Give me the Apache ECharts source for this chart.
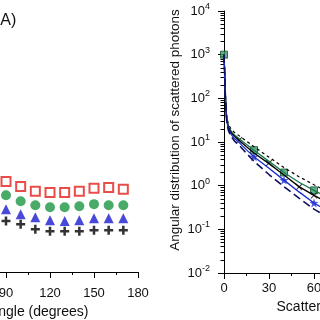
<!DOCTYPE html>
<html><head><meta charset="utf-8">
<script src="https://cdn.jsdelivr.net/npm/echarts@6/dist/echarts.min.js"></script>
<style>html,body{margin:0;padding:0;background:#fff}#c{width:320px;height:320px}</style>
</head><body><div id="c"></div>
<script>
// ---- Panel A (left): scattering angle vs value (y axis off-screen) ----
const angleA = [90, 100, 110, 120, 130, 140, 150, 160, 170];
const redSquares = [34.7, 32.8, 30.9, 30.5, 30.5, 30.9, 32.1, 32.4, 31.7];
const greenCircles = [29.4, 27.1, 25.6, 24.8, 24.8, 25.2, 26.0, 25.6, 25.6];
const blueTriangles = [24.0, 22.1, 21.0, 19.8, 19.5, 19.8, 20.6, 20.6, 20.6];
const blackPlus = [19.5, 18.3, 16.4, 15.6, 15.6, 15.6, 16.0, 16.0, 16.0];

// ---- Panel B (right): angular distribution of scattered photons (log) ----
const angleB = [0, 0.5, 1, 1.5, 2, 3, 5, 7, 10, 15, 20, 30, 40, 50, 60, 70];
const blackSolid = [1000, 350, 100, 45, 30, 21, 16, 13.5, 11, 7.8, 5.6, 3.2, 1.75, 0.95, 0.6, 0.4];
const greenSolid = [1000, 360, 105, 48, 32, 22.5, 17, 14.5, 12, 8.8, 6.5, 3.6, 2.0, 1.2, 0.78, 0.52];
const blackDashed = [1000, 380, 115, 52, 35, 25, 19, 16.5, 14, 10.5, 7.8, 4.5, 2.6, 1.6, 1.05, 0.7];
const blueSolid = [1000, 340, 95, 42, 28, 19.5, 14.5, 12, 9.8, 6.6, 4.6, 2.5, 1.34, 0.72, 0.4, 0.25];
const blueDashed = [1000, 330, 90, 40, 26, 18, 13, 10.5, 8.5, 5.5, 3.6, 1.8, 0.95, 0.52, 0.29, 0.18];
const greenMarkAngle = [0, 20, 40, 60];
const greenMarkVal = [1000, 6.5, 2.0, 0.78];
const crossAngle = [10, 30, 50, 60];
const crossVal = [11, 3.3, 0.93, 0.6];
const starAngle = [20, 40, 60];
const starVal = [4.6, 1.34, 0.4];

const xName = 'Scattering angle (degrees)';
const yNameB = 'Angular distribution of scattered photons';
const panelLabel = '(A)';

const zip = (a, b) => a.map((v, i) => [v, b[i]]);
const FONT = '"Liberation Sans", Arial, sans-serif';
const PLUS = 'path://M3.6,0H6.4V3.6H10V6.4H6.4V10H3.6V6.4H0V3.6H3.6Z';
const XMARK = 'path://M1,0L5,4L9,0L10,1L6,5L10,9L9,10L5,6L1,10L0,9L4,5L0,1Z';
const STAR = 'path://M5,0L6.2,3.5L10,3.6L7,5.9L8.1,9.6L5,7.4L1.9,9.6L3,5.9L0,3.6L3.8,3.5Z';

const axisCommon = {
  axisLine: {lineStyle: {color: '#000', width: 1}},
  axisTick: {length: 6, lineStyle: {color: '#000'}},
  minorTick: {show: true, splitNumber: 2, length: 3, lineStyle: {color: '#000'}},
  splitLine: {show: false},
  axisLabel: {color: '#111', fontSize: 13, fontFamily: FONT}
};

const chart = echarts.init(document.getElementById('c'));
chart.setOption({
  animation: false,
  backgroundColor: '#fff',
  grid: [
    {left: -126, right: 182, top: 11, bottom: 48, containLabel: false, outerBoundsMode: 'none'},
    {left: 224, right: -174, top: 11, bottom: 47, containLabel: false, outerBoundsMode: 'none'}
  ],
  xAxis: [
    Object.assign({}, axisCommon, {
      gridIndex: 0, type: 'value', min: 0, max: 180, interval: 30,
      name: xName, nameLocation: 'middle', nameGap: 33,
      nameTextStyle: {fontSize: 14, color: '#111', fontFamily: FONT},
      axisLabel: Object.assign({}, axisCommon.axisLabel, {margin: 15})
    }),
    Object.assign({}, axisCommon, {
      gridIndex: 1, type: 'value', min: 0, max: 180, interval: 30,
      name: xName, nameLocation: 'middle', nameGap: 25,
      nameTextStyle: {fontSize: 14, color: '#111', fontFamily: FONT},
      axisLabel: Object.assign({}, axisCommon.axisLabel, {margin: 9})
    })
  ],
  yAxis: [
    {gridIndex: 0, type: 'value', min: 0, max: 100, show: false},
    Object.assign({}, axisCommon, {
      gridIndex: 1, type: 'log', logBase: 10, min: 0.01, max: 10000,
      minorTick: {show: true, splitNumber: 9, length: 3.5, lineStyle: {color: '#000'}},
      axisLabel: {
        margin: 14, fontFamily: FONT,
        formatter: v => '{b|10}{s|' + Math.round(Math.log10(v)) + '}',
        rich: {
          b: {fontSize: 13, color: '#111', fontFamily: FONT},
          s: {fontSize: 9, color: '#111', fontFamily: FONT, padding: [0, 0, 9, 0]}
        }
      }
    })
  ],
  graphic: [
    {type: 'text', left: -5, top: 13, style: {text: panelLabel, font: '16px ' + FONT, fill: '#111'}},
    {type: 'text', x: 175, y: 130, rotation: Math.PI / 2,
     style: {text: yNameB, font: '13.5px ' + FONT, fill: '#111', align: 'center', verticalAlign: 'middle'}}
  ],
  series: [
    {type: 'scatter', xAxisIndex: 0, yAxisIndex: 0, data: zip(angleA, redSquares),
     symbol: 'rect', symbolSize: 9, itemStyle: {color: '#fff', borderColor: '#e3211c', borderWidth: 2}},
    {type: 'scatter', xAxisIndex: 0, yAxisIndex: 0, data: zip(angleA, greenCircles),
     symbol: 'circle', symbolSize: 10, itemStyle: {color: '#1a9641'}},
    {type: 'scatter', xAxisIndex: 0, yAxisIndex: 0, data: zip(angleA, blueTriangles),
     symbol: 'triangle', symbolSize: 10, itemStyle: {color: '#1b1bd0'}},
    {type: 'scatter', xAxisIndex: 0, yAxisIndex: 0, data: zip(angleA, blackPlus),
     symbol: PLUS, symbolSize: 9, itemStyle: {color: '#000'}},

    {type: 'line', xAxisIndex: 1, yAxisIndex: 1, data: zip(angleB, blackDashed), showSymbol: false,
     lineStyle: {color: '#000', width: 1.2, type: [3, 3]}},
    {type: 'line', xAxisIndex: 1, yAxisIndex: 1, data: zip(angleB, greenSolid), showSymbol: false,
     lineStyle: {color: '#1d7a4c', width: 1.3}},
    {type: 'line', xAxisIndex: 1, yAxisIndex: 1, data: zip(angleB, blackSolid), showSymbol: false,
     lineStyle: {color: '#000', width: 1.3}},
    {type: 'line', xAxisIndex: 1, yAxisIndex: 1, data: zip(angleB, blueSolid), showSymbol: false,
     lineStyle: {color: '#1b2bd4', width: 1.3}},
    {type: 'line', xAxisIndex: 1, yAxisIndex: 1, data: zip(angleB, blueDashed), showSymbol: false,
     lineStyle: {color: '#101060', width: 1.6, type: [8, 4]}},
    {type: 'scatter', xAxisIndex: 1, yAxisIndex: 1, data: zip(greenMarkAngle, greenMarkVal),
     symbol: 'rect', symbolSize: 7, itemStyle: {color: '#3c9a6a', borderColor: '#14502e', borderWidth: 1}},
    {type: 'scatter', xAxisIndex: 1, yAxisIndex: 1, data: zip(crossAngle, crossVal),
     symbol: XMARK, symbolSize: 7, itemStyle: {color: '#000'}},
    {type: 'scatter', xAxisIndex: 1, yAxisIndex: 1, data: zip(starAngle, starVal),
     symbol: STAR, symbolSize: 9, itemStyle: {color: '#1b2bd4'}}
  ]
});
</script></body></html>
